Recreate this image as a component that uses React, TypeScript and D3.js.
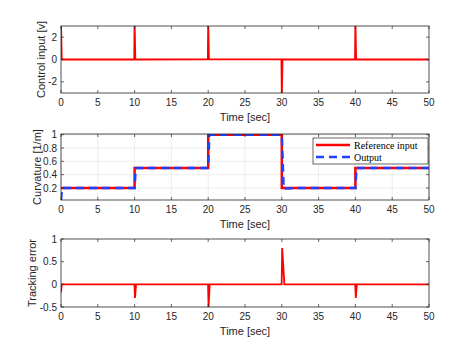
import React from 'react';
import * as d3 from 'd3';

// time axis
const timeTicks = [0, 5, 10, 15, 20, 25, 30, 35, 40, 45, 50];

// control input [v] (spikes are clipped by the axis limits)
const controlTime = [0, 0.1, 9.95, 10.0, 10.1, 19.95, 20.0, 20.1, 29.95, 30.0, 30.1, 39.95, 40.0, 40.1, 50];
const controlValue = [3.4, 0, 0, 3.4, 0, 0.02, 3.4, 0.02, 0.02, -3.4, 0, 0, 3.4, 0, 0];
const controlTicks = [-2, 0, 2];

// curvature [1/m]
const refTime = [0, 10, 10, 20, 20, 30, 30, 40, 40, 50];
const refValue = [0.2, 0.2, 0.5, 0.5, 1, 1, 0.2, 0.2, 0.5, 0.5];
const outTime = [0, 0.15, 10, 10.15, 20, 20.15, 30, 30.25, 32, 40, 40.15, 50];
const outValue = [0.02, 0.2, 0.2, 0.5, 0.5, 1, 1, 0.19, 0.2, 0.2, 0.5, 0.5];
const curvTicks = [0.2, 0.4, 0.6, 0.8, 1];

// tracking error
const errTime = [0, 0.1, 9.98, 10.05, 10.2, 19.98, 20.05, 20.2, 29.98, 30.05, 30.35, 33, 39.98, 40.05, 40.2, 50];
const errValue = [-0.18, 0, 0, -0.3, 0, 0, -0.5, 0, 0, 0.8, 0, 0, 0, -0.3, 0, 0];
const errTicks = [-0.5, 0, 0.5, 1];

const W = 474;
const H = 355;
const LEFT = 61;
const RIGHT = 429;
const AXIS = '#262626';
const FONT = '"Liberation Sans", Arial, sans-serif';

type Series = { t: number[]; v: number[]; color: string; width: number; dash?: string };

const Panel = ({ id, top, bottom, yDomain, yTicks, ylabel, labelX, series, grid, legend }:
  { id: string; top: number; bottom: number; yDomain: [number, number]; yTicks: number[]; ylabel: string; labelX: number; series: Series[]; grid?: boolean; legend?: boolean }) => {
  const x = d3.scaleLinear().domain([0, 50]).range([LEFT, RIGHT]);
  const y = d3.scaleLinear().domain(yDomain).range([bottom, top]);
  const line = (s: Series) => d3.line<number>().x((_, i) => x(s.t[i])).y((d) => y(d))(s.v) || '';
  const tl = 3;
  return (
    <g>
      <defs>
        <clipPath id={id}>
          <rect x={LEFT} y={top} width={RIGHT - LEFT} height={bottom - top} />
        </clipPath>
      </defs>
      <rect x={LEFT} y={top} width={RIGHT - LEFT} height={bottom - top} fill="#fff" />
      {grid && timeTicks.map((t) => (
        <line key={'gx' + t} x1={x(t)} x2={x(t)} y1={top} y2={bottom} stroke="#e3e3e3" strokeWidth={0.6} />
      ))}
      {grid && yTicks.map((t) => (
        <line key={'gy' + t} x1={LEFT} x2={RIGHT} y1={y(t)} y2={y(t)} stroke="#e3e3e3" strokeWidth={0.6} />
      ))}
      <g clipPath={`url(#${id})`}>
        {series.map((s, i) => (
          <path key={i} d={line(s)} fill="none" stroke={s.color} strokeWidth={s.width} strokeDasharray={s.dash} strokeLinejoin="miter" />
        ))}
      </g>
      <rect x={LEFT} y={top} width={RIGHT - LEFT} height={bottom - top} fill="none" stroke={AXIS} strokeWidth={0.8} />
      {timeTicks.map((t) => (
        <g key={'x' + t}>
          <line x1={x(t)} x2={x(t)} y1={bottom} y2={bottom - tl} stroke={AXIS} strokeWidth={0.7} />
          <line x1={x(t)} x2={x(t)} y1={top} y2={top + tl} stroke={AXIS} strokeWidth={0.7} />
          <text x={x(t)} y={bottom + 13} textAnchor="middle" fontSize={10} fontFamily={FONT} fill={AXIS}>{t}</text>
        </g>
      ))}
      {yTicks.map((t) => (
        <g key={'y' + t}>
          <line x1={LEFT} x2={LEFT + tl} y1={y(t)} y2={y(t)} stroke={AXIS} strokeWidth={0.7} />
          <line x1={RIGHT} x2={RIGHT - tl} y1={y(t)} y2={y(t)} stroke={AXIS} strokeWidth={0.7} />
          <text x={LEFT - 4} y={y(t) + 3.5} textAnchor="end" fontSize={10} fontFamily={FONT} fill={AXIS}>{t}</text>
        </g>
      ))}
      <text x={(LEFT + RIGHT) / 2} y={bottom + 28} textAnchor="middle" fontSize={11} fontFamily={FONT} fill={AXIS}>Time [sec]</text>
      <text transform={`translate(${labelX},${(top + bottom) / 2}) rotate(-90)`} textAnchor="middle" fontSize={11} fontFamily={FONT} fill={AXIS}>{ylabel}</text>
      {legend && (
        <g>
          <rect x={313} y={138} width={115} height={26} fill="#fff" stroke={AXIS} strokeWidth={0.7} />
          <line x1={316} x2={350} y1={145} y2={145} stroke="#ff0000" strokeWidth={2.5} />
          <text x={354} y={148.5} fontSize={10} fontFamily='"Liberation Serif", "Times New Roman", serif' fill="#000">Reference input</text>
          <line x1={316} x2={350} y1={157} y2={157} stroke="#2040ff" strokeWidth={2.5} strokeDasharray="8 5" />
          <text x={354} y={160.5} fontSize={10} fontFamily='"Liberation Serif", "Times New Roman", serif' fill="#000">Output</text>
        </g>
      )}
    </g>
  );
};

const App = () => {
  return (
    <svg width={W} height={H} style={{ position: 'absolute', left: 0, top: 0, background: '#fff' }}>
      <rect width={W} height={H} fill="#fff" />
      <Panel id="c1" top={26} bottom={93} yDomain={[-3, 3]} yTicks={controlTicks} ylabel="Control input [v]" labelX={45}
        series={[{ t: controlTime, v: controlValue, color: '#ff0000', width: 1.8 }]} />
      <Panel id="c2" top={134} bottom={200} yDomain={[0.02, 1.01]} yTicks={curvTicks} ylabel="Curvature [1/m]" labelX={41} grid legend
        series={[
          { t: refTime, v: refValue, color: '#ff0000', width: 2.5 },
          { t: outTime, v: outValue, color: '#2040ff', width: 2.5, dash: '8 5' },
        ]} />
      <Panel id="c3" top={239} bottom={307} yDomain={[-0.5, 1]} yTicks={errTicks} ylabel="Tracking error" labelX={36}
        series={[{ t: errTime, v: errValue, color: '#ff0000', width: 1.8 }]} />
    </svg>
  );
};

export default App;
